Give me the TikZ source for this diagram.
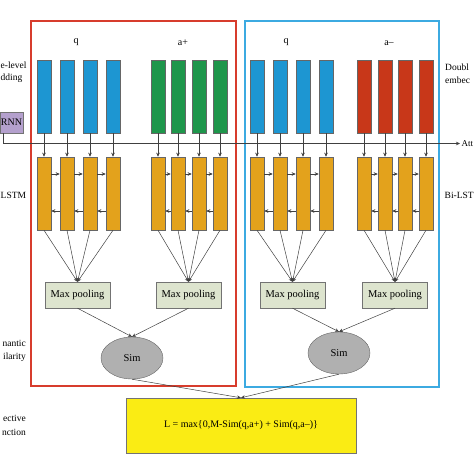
\documentclass[tikz,border=0pt]{standalone}
\usepackage{fontspec}
\setmainfont{Liberation Serif}
\usepackage{tikz}
\usetikzlibrary{arrows.meta, shapes.geometric, positioning}
\tikzset{>={Stealth[length=4pt,width=3.5pt]}}
\definecolor{embblue}{RGB}{29,150,210}
\definecolor{embgreen}{RGB}{30,150,75}
\definecolor{embred}{RGB}{200,55,25}
\definecolor{lstmcol}{RGB}{227,162,28}
\definecolor{poolcol}{RGB}{221,228,206}
\definecolor{simcol}{RGB}{176,176,176}
\definecolor{losscol}{RGB}{250,236,20}
\definecolor{redframe}{RGB}{215,60,45}
\definecolor{blueframe}{RGB}{60,170,225}
\definecolor{rnncol}{RGB}{180,160,205}

\begin{document}
\begin{tikzpicture}[x=1pt, y=-1pt, font=\fontsize{10}{12}\selectfont,
    bar/.style={draw=black!60, line width=0.5pt, minimum width=14pt, minimum height=73pt, inner sep=0pt},
    pool/.style={draw=black!55, fill=poolcol, minimum width=65pt, minimum height=26pt, inner sep=0pt, font=\fontsize{10.5}{12}\selectfont},
    simnode/.style={ellipse, draw=black!60, fill=simcol, minimum width=62pt, minimum height=42pt, inner sep=0pt, font=\fontsize{10.5}{12}\selectfont},
    side/.style={inner xsep=0pt, font=\fontsize{9.5}{11}\selectfont},
    frame/.style={line width=1.2pt},
    link/.style={->, draw=black!75, line width=0.5pt}]
  \useasboundingbox (0,0) rectangle (474,474);
  \clip (0,0) rectangle (474,474);

  % outer frames
  \draw[frame, redframe] (31,21) rectangle (236,386);
  \draw[frame, blueframe] (245,21) rectangle (439,387);

  % side labels
  \node[side, anchor=west] (lbla) at (0.5,65) {e-level};
  \node[side, anchor=west] (lblb) at (0.5,78) {dding};
  \node[side, anchor=west] (lblc) at (0.5,195) {LSTM};
  \node[side, anchor=east] (lbld) at (26,343) {nantic};
  \node[side, anchor=east] (lble) at (26,357) {ilarity};
  \node[side, anchor=east] (lblf) at (26,418) {ective};
  \node[side, anchor=east] (lblg) at (26,432) {nction};
  \node[side, anchor=west] (lblh) at (445,67) {Doubl};
  \node[side, anchor=west] (lbli) at (445,80) {embec};
  \node[side, anchor=west] (lblj) at (444.5,195) {Bi-LST};

  % group titles
  \node (tq1) at (76,42) {q};
  \node (tap) at (183,43) {a+};
  \node (tq2) at (286,42) {q};
  \node (tan) at (389,43) {a--};

  % attention line
  \node[draw=black!55, fill=rnncol, minimum width=23pt, minimum height=21pt, inner sep=0pt] (rnn) at (11.5,122.5) {RNN};
  \coordinate (att) at (460,143.5);
  \draw[link] ([xshift=-8.5pt]rnn.south) |- (att);
  \node[side, anchor=west, font=\fontsize{9}{11}\selectfont] (attlbl) at (461.5,143.5) {Att};

  % embeddings, Bi-LSTM and pooling per group
  \foreach \g/\xa/\xb/\xc/\xd/\col/\px in {qa/44/67/90/113/embblue/77.5, ap/158/178/199/220/embgreen/188.5,
      qb/257/280/303/326/embblue/292.5, an/364/385/405/426/embred/395} {
    \node[pool] (\g pool) at (\px,295) {Max pooling};
    \foreach \x [count=\i] in {\xa,\xb,\xc,\xd} {
      \node[bar, fill=\col] (\g e\i) at (\x,96.5) {};
      \node[bar, fill=lstmcol] (\g l\i) at (\x,193.5) {};
      \draw[link] (\g e\i) -- (\g l\i);
      \draw[link] (\g l\i.south) -- (\g pool.north);
    }
    \foreach \i/\j in {1/2, 2/3, 3/4} {
      \draw[link] ([yshift=19.5pt]\g l\i.east) -- ([yshift=19.5pt]\g l\j.west);
      \draw[link] ([yshift=-17.5pt]\g l\j.west) -- ([yshift=-17.5pt]\g l\i.east);
    }
  }

  % similarity
  \node[simnode] (simp) at (132,358) {Sim};
  \node[simnode] (simn) at (339,353) {Sim};
  \draw[link] (qapool.south) -- (simp.north);
  \draw[link] (appool.south) -- (simp.north);
  \draw[link] (qbpool.south) -- (simn.north);
  \draw[link] (anpool.south) -- (simn.north);

  % objective
  \node[draw=black!55, fill=losscol, minimum width=230pt, minimum height=55pt, inner sep=0pt] (loss) at (241,425.5)
    {L = max\{0,M-Sim(q,a+) + Sim(q,a--)\}};
  \draw[link] (simp.south) -- (loss.north);
  \draw[link] (simn.south) -- (loss.north);
\end{tikzpicture}
\end{document}
